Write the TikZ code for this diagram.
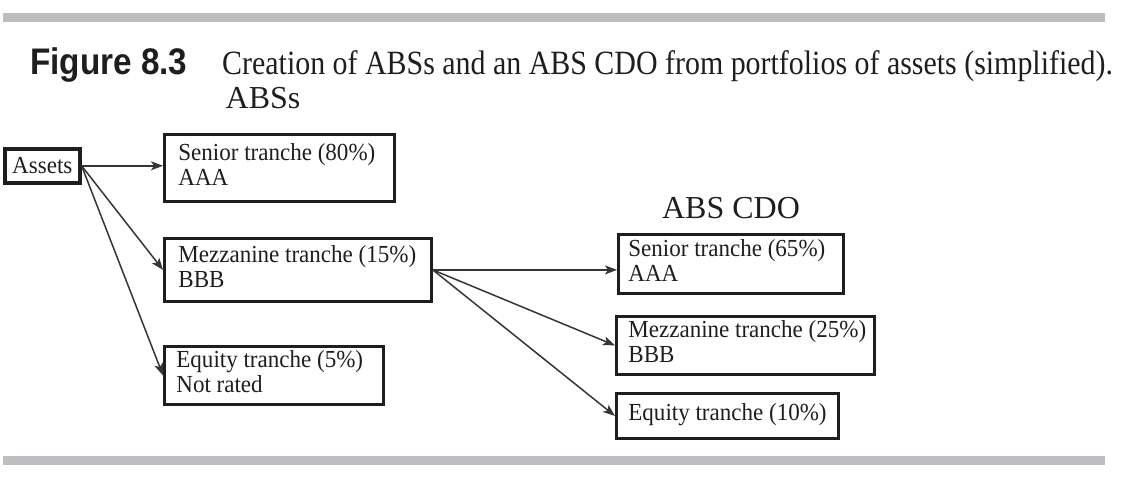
\documentclass[tikz,border=0pt]{standalone}
\usepackage{fontspec}
\setmainfont{Liberation Serif}
\newfontfamily\figsans[FakeStretch=0.9]{Liberation Sans}
\newfontfamily\capfont[FakeStretch=0.88]{Liberation Serif}
\newfontfamily\boxfont[FakeStretch=0.94]{Liberation Serif}
\usetikzlibrary{arrows.meta}
\definecolor{bargray}{RGB}{190,190,194}
\definecolor{ink}{RGB}{30,30,30}
\newcommand{\tbtext}[2]{\makebox[#1][l]{\begin{tabular}{@{}l@{}}#2\end{tabular}}}
\tikzset{
  tbox/.style={draw=ink, text=ink, line width=2.8pt, rectangle, anchor=north west, inner ysep=0pt,
    font=\boxfont\fontsize{24.5}{25}\selectfont},
  arr/.style={draw=ink!90, line width=1.5pt, -{Stealth[length=12pt,width=9pt,inset=3pt]}},
  hdr/.style={text=ink, font=\fontsize{32}{36}\selectfont, inner sep=0pt},
}
\begin{document}
\begin{tikzpicture}[x=1pt,y=-1pt]
\useasboundingbox (0,0) rectangle (1130,496);
% gray rules
\fill[bargray] (3,13) rectangle (1105,22);
\fill[bargray] (3,456) rectangle (1105,465);
% caption
\node[anchor=base west, inner sep=0pt, text=ink] (fig) at (30,74)
  {\figsans\bfseries\fontsize{37}{42}\selectfont Figure 8.3};
\node[anchor=base west, inner sep=0pt, text=ink] (cap) at (222,74)
  {\capfont\fontsize{34}{40}\selectfont Creation of ABSs and an ABS CDO from portfolios of assets (simplified).};
% headers
\node[hdr] (habs) at (263,98) {ABSs};
\node[hdr] (hcdo) at (731,208) {ABS CDO};
% boxes
\node[tbox, line width=3.6pt, minimum width=75pt, minimum height=34pt, inner xsep=4pt] (A) at (3,147) {Assets};
\node[tbox, minimum width=230pt, minimum height=67pt, inner xsep=14pt] (S1) at (163,133)
  {\tbtext{202pt}{Senior tranche (80\%)\\AAA}};
\node[tbox, minimum width=267pt, minimum height=63pt, inner xsep=14pt] (M1) at (163,237)
  {\tbtext{239pt}{Mezzanine tranche (15\%)\\BBB}};
\node[tbox, minimum width=219pt, minimum height=58pt, inner xsep=12pt] (E1) at (163,345)
  {\tbtext{195pt}{Equity tranche (5\%)\\Not rated}};
\node[tbox, minimum width=225pt, minimum height=59pt, inner xsep=10pt] (S2) at (617,233)
  {\tbtext{205pt}{Senior tranche (65\%)\\AAA}};
\node[tbox, minimum width=258pt, minimum height=58pt, inner xsep=12pt] (M2) at (615,315)
  {\tbtext{234pt}{Mezzanine tranche (25\%)\\BBB}};
\node[tbox, minimum width=222pt, minimum height=45pt, inner xsep=12pt] (E2) at (615,392)
  {\tbtext{198pt}{Equity tranche (10\%)}};
% connectors
\draw[arr] (A.east) -- (A.east -| S1.west);
\draw[arr] (A.east) -- (M1.west);
\draw[arr] (A.east) -- (E1.west);
\draw[arr] (M1.east) -- (M1.east -| S2.west);
\draw[arr] (M1.east) -- (M2.west);
\draw[arr] (M1.east) -- (E2.west);
\end{tikzpicture}
\end{document}
